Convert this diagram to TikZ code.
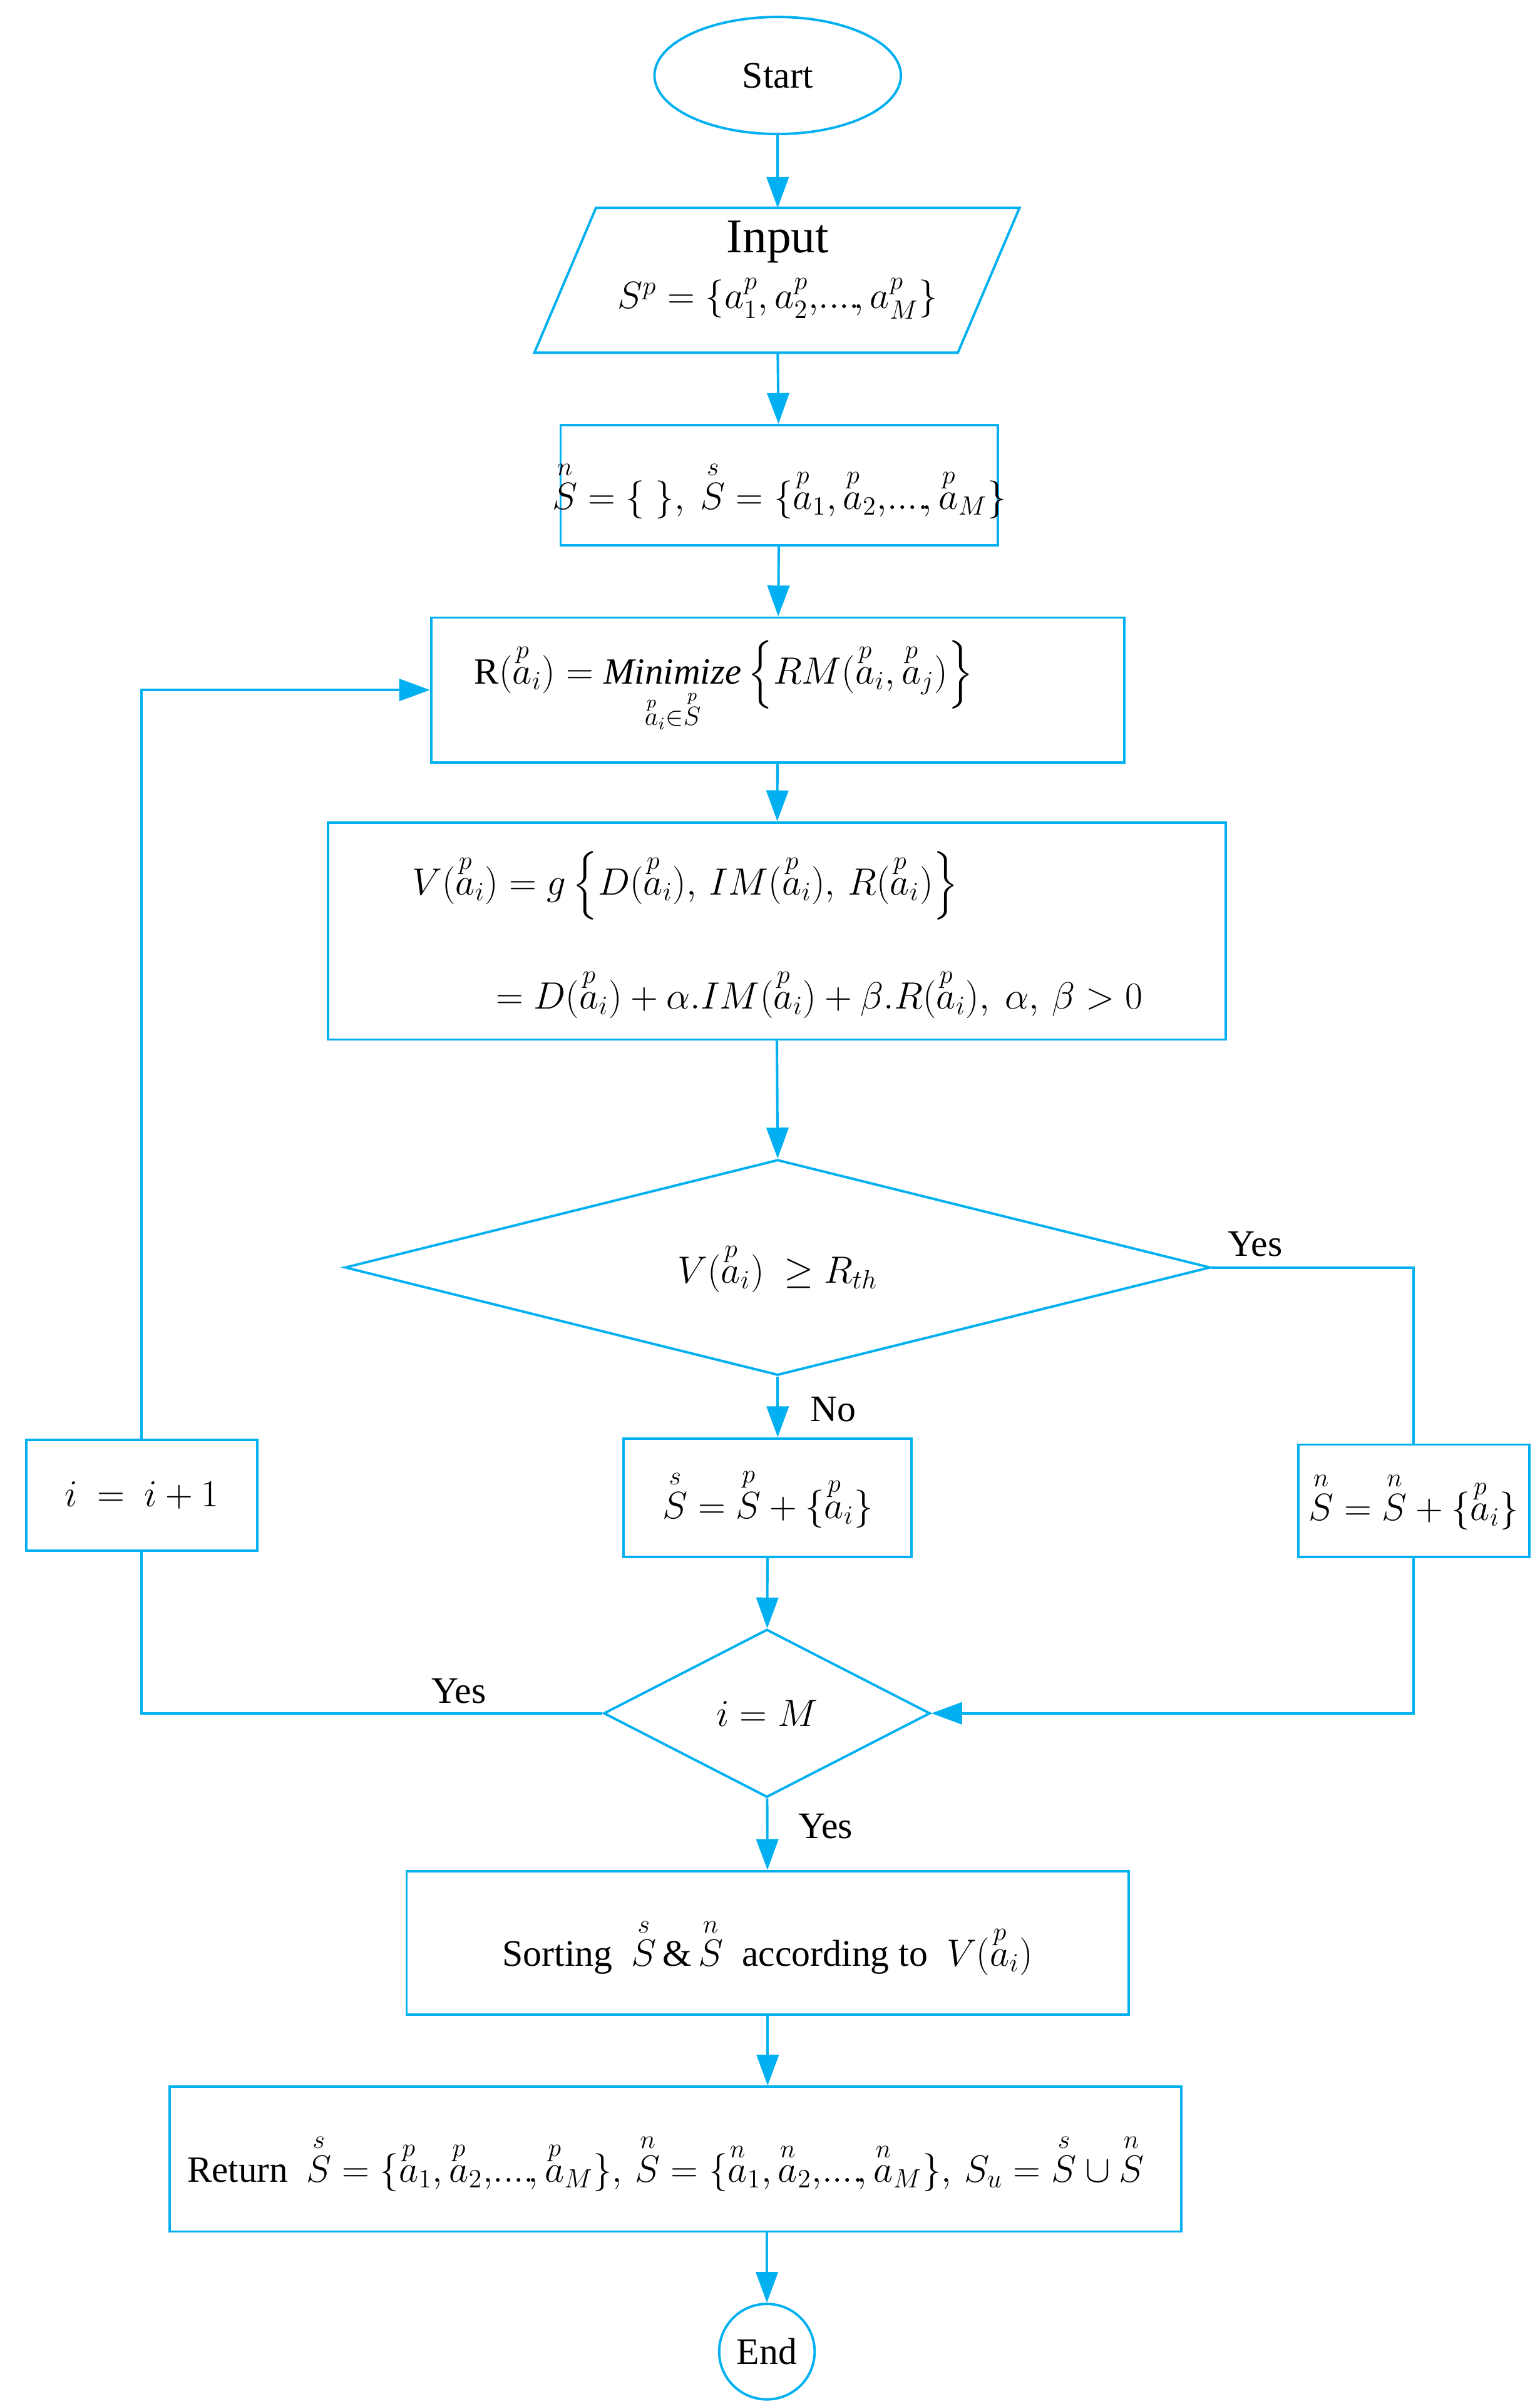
\documentclass[tikz,border=0pt]{standalone}
\usepackage{amsmath}
\usepackage{fontspec}
\setmainfont{Liberation Serif}
\usetikzlibrary{shapes.geometric,arrows.meta}
\definecolor{cy}{HTML}{00B0F0}
\newcommand{\ov}[2]{\overset{#1}{#2}}
\newcommand{\dts}{,\!....\!,}
\begin{document}
\begin{tikzpicture}[x=0.0246cm,y=-0.0246cm,
  line width=1.1pt,
  every node/.style={font=\fontsize{17}{20}\selectfont},
  fm/.style={font=\fontsize{16.8}{19}\selectfont},
  box/.style={draw=cy,rectangle,inner sep=0},
  arr/.style={draw=cy,-{Triangle[length=14pt,width=10pt]}},
  ln/.style={draw=cy}]
\useasboundingbox (0,0) rectangle (1000,1561);
\node[draw=cy,ellipse,minimum width=160*0.0246cm,minimum height=76*0.0246cm] (start) at (505,49) {Start};
\draw[cy] (387,135)--(662,135)--(622,229)--(347,229)--cycle;
\coordinate (inT) at (505,135); \coordinate (inB) at (505,229);
\node (inp) at (505,157) {\fontsize{22}{24}\selectfont Input};
\node[fm] (inf) at (505,194) {$S^p=\left\{a_1^p,a_2^p\dts a_M^p\right\}$};
\node[box,minimum width=284*0.0246cm,minimum height=78*0.0246cm] (b1) at (506,315) {};
\node[fm] (b1t) at (506,318) {$\ov{n}{S}=\{\;\},\ \ov{s}{S}=\{\ov{p}{a}_1,\ov{p}{a}_2\dts\ov{p}{a}_M\}$};
\node[box,minimum width=450*0.0246cm,minimum height=94*0.0246cm] (b2) at (505,448) {};
\node[fm] at (470,446) {$\mathrm{R}(\ov{p}{a}_i)=\underset{\ov{p}{a}_i\in \ov{p}{S}}{\mathit{Minimize}}\left\{RM(\ov{p}{a}_i,\ov{p}{a}_j)\right\}$};
\node[box,minimum width=583*0.0246cm,minimum height=141*0.0246cm] (b3) at (504.5,604.5) {};
\node[fm] at (445,575) {$V(\ov{p}{a}_i)=g\left\{D(\ov{p}{a}_i),\,IM(\ov{p}{a}_i),\,R(\ov{p}{a}_i)\right\}$};
\node[fm] at (532,645) {$=D(\ov{p}{a}_i)+\alpha.IM(\ov{p}{a}_i)+\beta.R(\ov{p}{a}_i),\ \alpha,\,\beta>0$};
\node[draw=cy,diamond,inner sep=0,minimum width=562*0.0246cm,minimum height=140*0.0246cm] (d1) at (505,823) {};
\node[fm] at (505,823) {$V(\ov{p}{a}_i)\ \geq R_{th}$};
\node[box,minimum width=187*0.0246cm,minimum height=77*0.0246cm] (bn) at (498.5,972.5) {};
\node[fm] at (498.5,972.5) {$\ov{s}{S}=\ov{p}{S}+\{\ov{p}{a}_i\}$};
\node[box,minimum width=150*0.0246cm,minimum height=73*0.0246cm] (br) at (918,974.5) {};
\node[fm] at (918,974.5) {$\ov{n}{S}=\ov{n}{S}+\{\ov{p}{a}_i\}$};
\node[box,minimum width=150*0.0246cm,minimum height=72*0.0246cm] (bi) at (92,971) {$i\ =\ i+1$};
\node[draw=cy,diamond,inner sep=0,minimum width=212*0.0246cm,minimum height=109*0.0246cm] (d2) at (498,1112.5) {$i=M$};
\node[box,minimum width=469*0.0246cm,minimum height=93*0.0246cm] (bs) at (498.5,1261.5) {};
\node at (498.5,1264) {Sorting\ \ $\ov{s}{S}\,\&\,\ov{n}{S}$\ \ according to\ \ $V(\ov{p}{a}_i)$};
\node[box,minimum width=657*0.0246cm,minimum height=94*0.0246cm] (bret) at (438.5,1402) {};
\node[anchor=west,fm] at (116,1404) {Return\ \ $\ov{s}{S}=\{\ov{p}{a}_1,\ov{p}{a}_2\dts\ov{p}{a}_M\},\,\ov{n}{S}=\{\ov{n}{a}_1,\ov{n}{a}_2\dts\ov{n}{a}_M\},\,S_u=\ov{s}{S}\cup\ov{n}{S}$};
\node[draw=cy,circle,minimum size=62*0.0246cm,inner sep=0] (end) at (498,1527) {End};
\draw[arr] (start) -- (inT);
\draw[arr] (inB) -- (b1);
\draw[arr] (b1) -- (b2);
\draw[arr] (b2) -- (b3);
\draw[arr] (b3.south) -- (d1.north);
\draw[arr] (d1.south) -- (d1.south|-bn.north);
\draw[arr] (bn) -- (d2);
\draw[ln] (d1.east) -| (br.north);
\draw[arr] (br.south) |- (d2.east);
\draw[ln] (d2.west) -| (bi.south);
\draw[arr] (bi.north) |- (b2.west);
\draw[arr] (d2) -- (bs);
\draw[arr] (bs) -- (bret.north-|bs);
\draw[arr] (bret.south-|end) -- (end);
\node at (815,808) {Yes};
\node at (541,915) {No};
\node at (298,1098) {Yes};
\node at (536,1186) {Yes};
\end{tikzpicture}
\end{document}
